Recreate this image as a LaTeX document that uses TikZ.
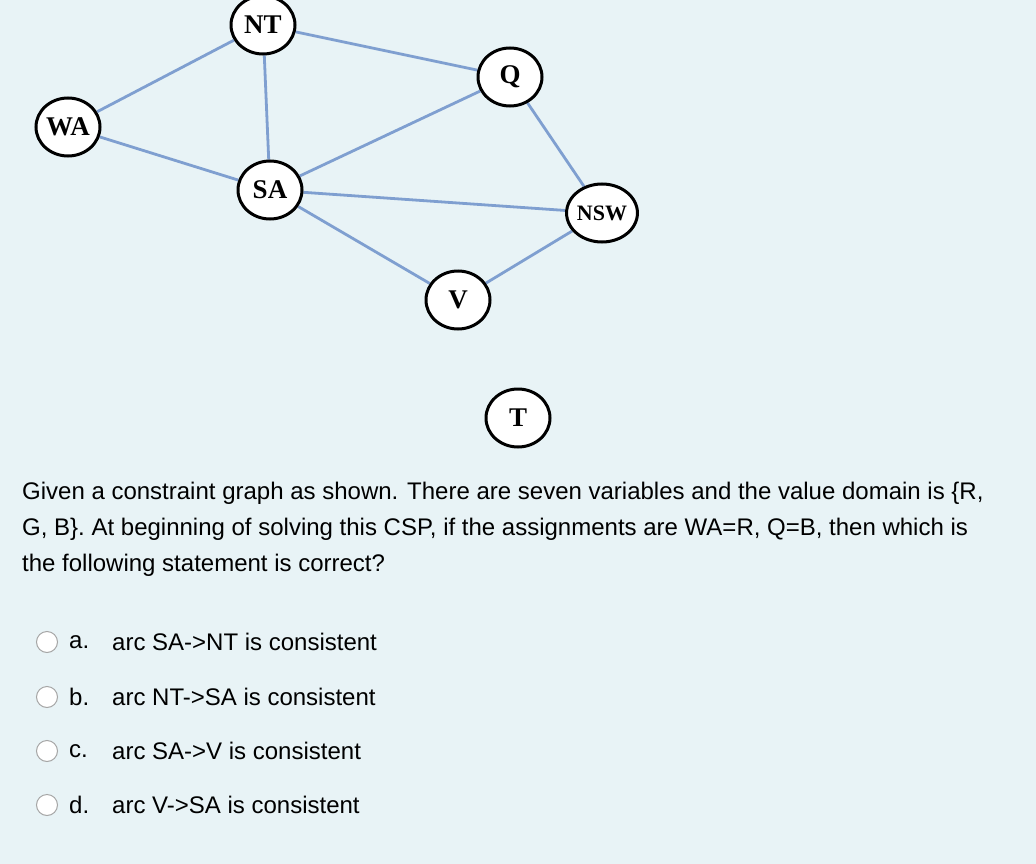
\documentclass[tikz,border=0pt]{standalone}
\usepackage{fontspec}
\setmainfont{Liberation Sans}
\newfontfamily\serifnode{Liberation Serif}
\usetikzlibrary{shapes.geometric}
\definecolor{bg}{HTML}{E8F3F6}
\definecolor{edge}{HTML}{7F9FD0}
\pgfdeclarelayer{bgl}
\pgfsetlayers{bgl,main}
\begin{document}
\begin{tikzpicture}[x=1pt,y=-1pt,
  var/.style={ellipse,draw=black,line width=3pt,fill=white,minimum width=64pt,minimum height=58pt,inner sep=0pt,font=\serifnode\bfseries\fontsize{27}{27}\selectfont},
  con/.style={draw=edge,line width=2.8pt},
  txt/.style={anchor=west,inner sep=0pt,font=\fontsize{24}{28}\selectfont},
  opt/.style={circle,draw=gray!70,line width=1pt,fill=white,minimum size=21pt,inner sep=0pt}]
\begin{pgfonlayer}{bgl}
\fill[bg] (0,0) rectangle (1036,864);
\end{pgfonlayer}
\useasboundingbox (0,0) rectangle (1036,864);
\node[var] (NT) at (263,25) {NT};
\node[var] (WA) at (68,127) {WA};
\node[var] (Q) at (510,77) {Q};
\node[var] (SA) at (270,190) {SA};
\node[var,font=\serifnode\bfseries\fontsize{22}{22}\selectfont] (NSW) at (602,213) {NSW};
\node[var] (V) at (458,300) {V};
\node[var] (T) at (518,418) {T};
\begin{pgfonlayer}{bgl}
\foreach \a/\b in {WA/NT,WA/SA,NT/SA,NT/Q,SA/Q,SA/NSW,SA/V,Q/NSW,V/NSW}{\draw[con] (\a) -- (\b);}
\end{pgfonlayer}
\node[txt] (l1) at (22,493) {Given a constraint graph as shown. There are seven variables and the value domain is \{R,};
\node[txt] (l2) at (22,529) {G, B\}. At beginning of solving this CSP, if the assignments are WA=R, Q=B, then which is};
\node[txt] (l3) at (22,565) {the following statement is correct?};
\foreach \y/\l/\t [count=\i] in {642/a./arc SA->NT is consistent,697/b./arc NT->SA is consistent,751/c./arc SA->V is consistent,805/d./arc V->SA is consistent}{
  \node[opt] (o\i) at (47,\y) {};
  \node[txt] (k\i) at (69,\y) {\l};
  \node[txt] (t\i) at (112,\y) {\t};
}
\end{tikzpicture}
\end{document}
